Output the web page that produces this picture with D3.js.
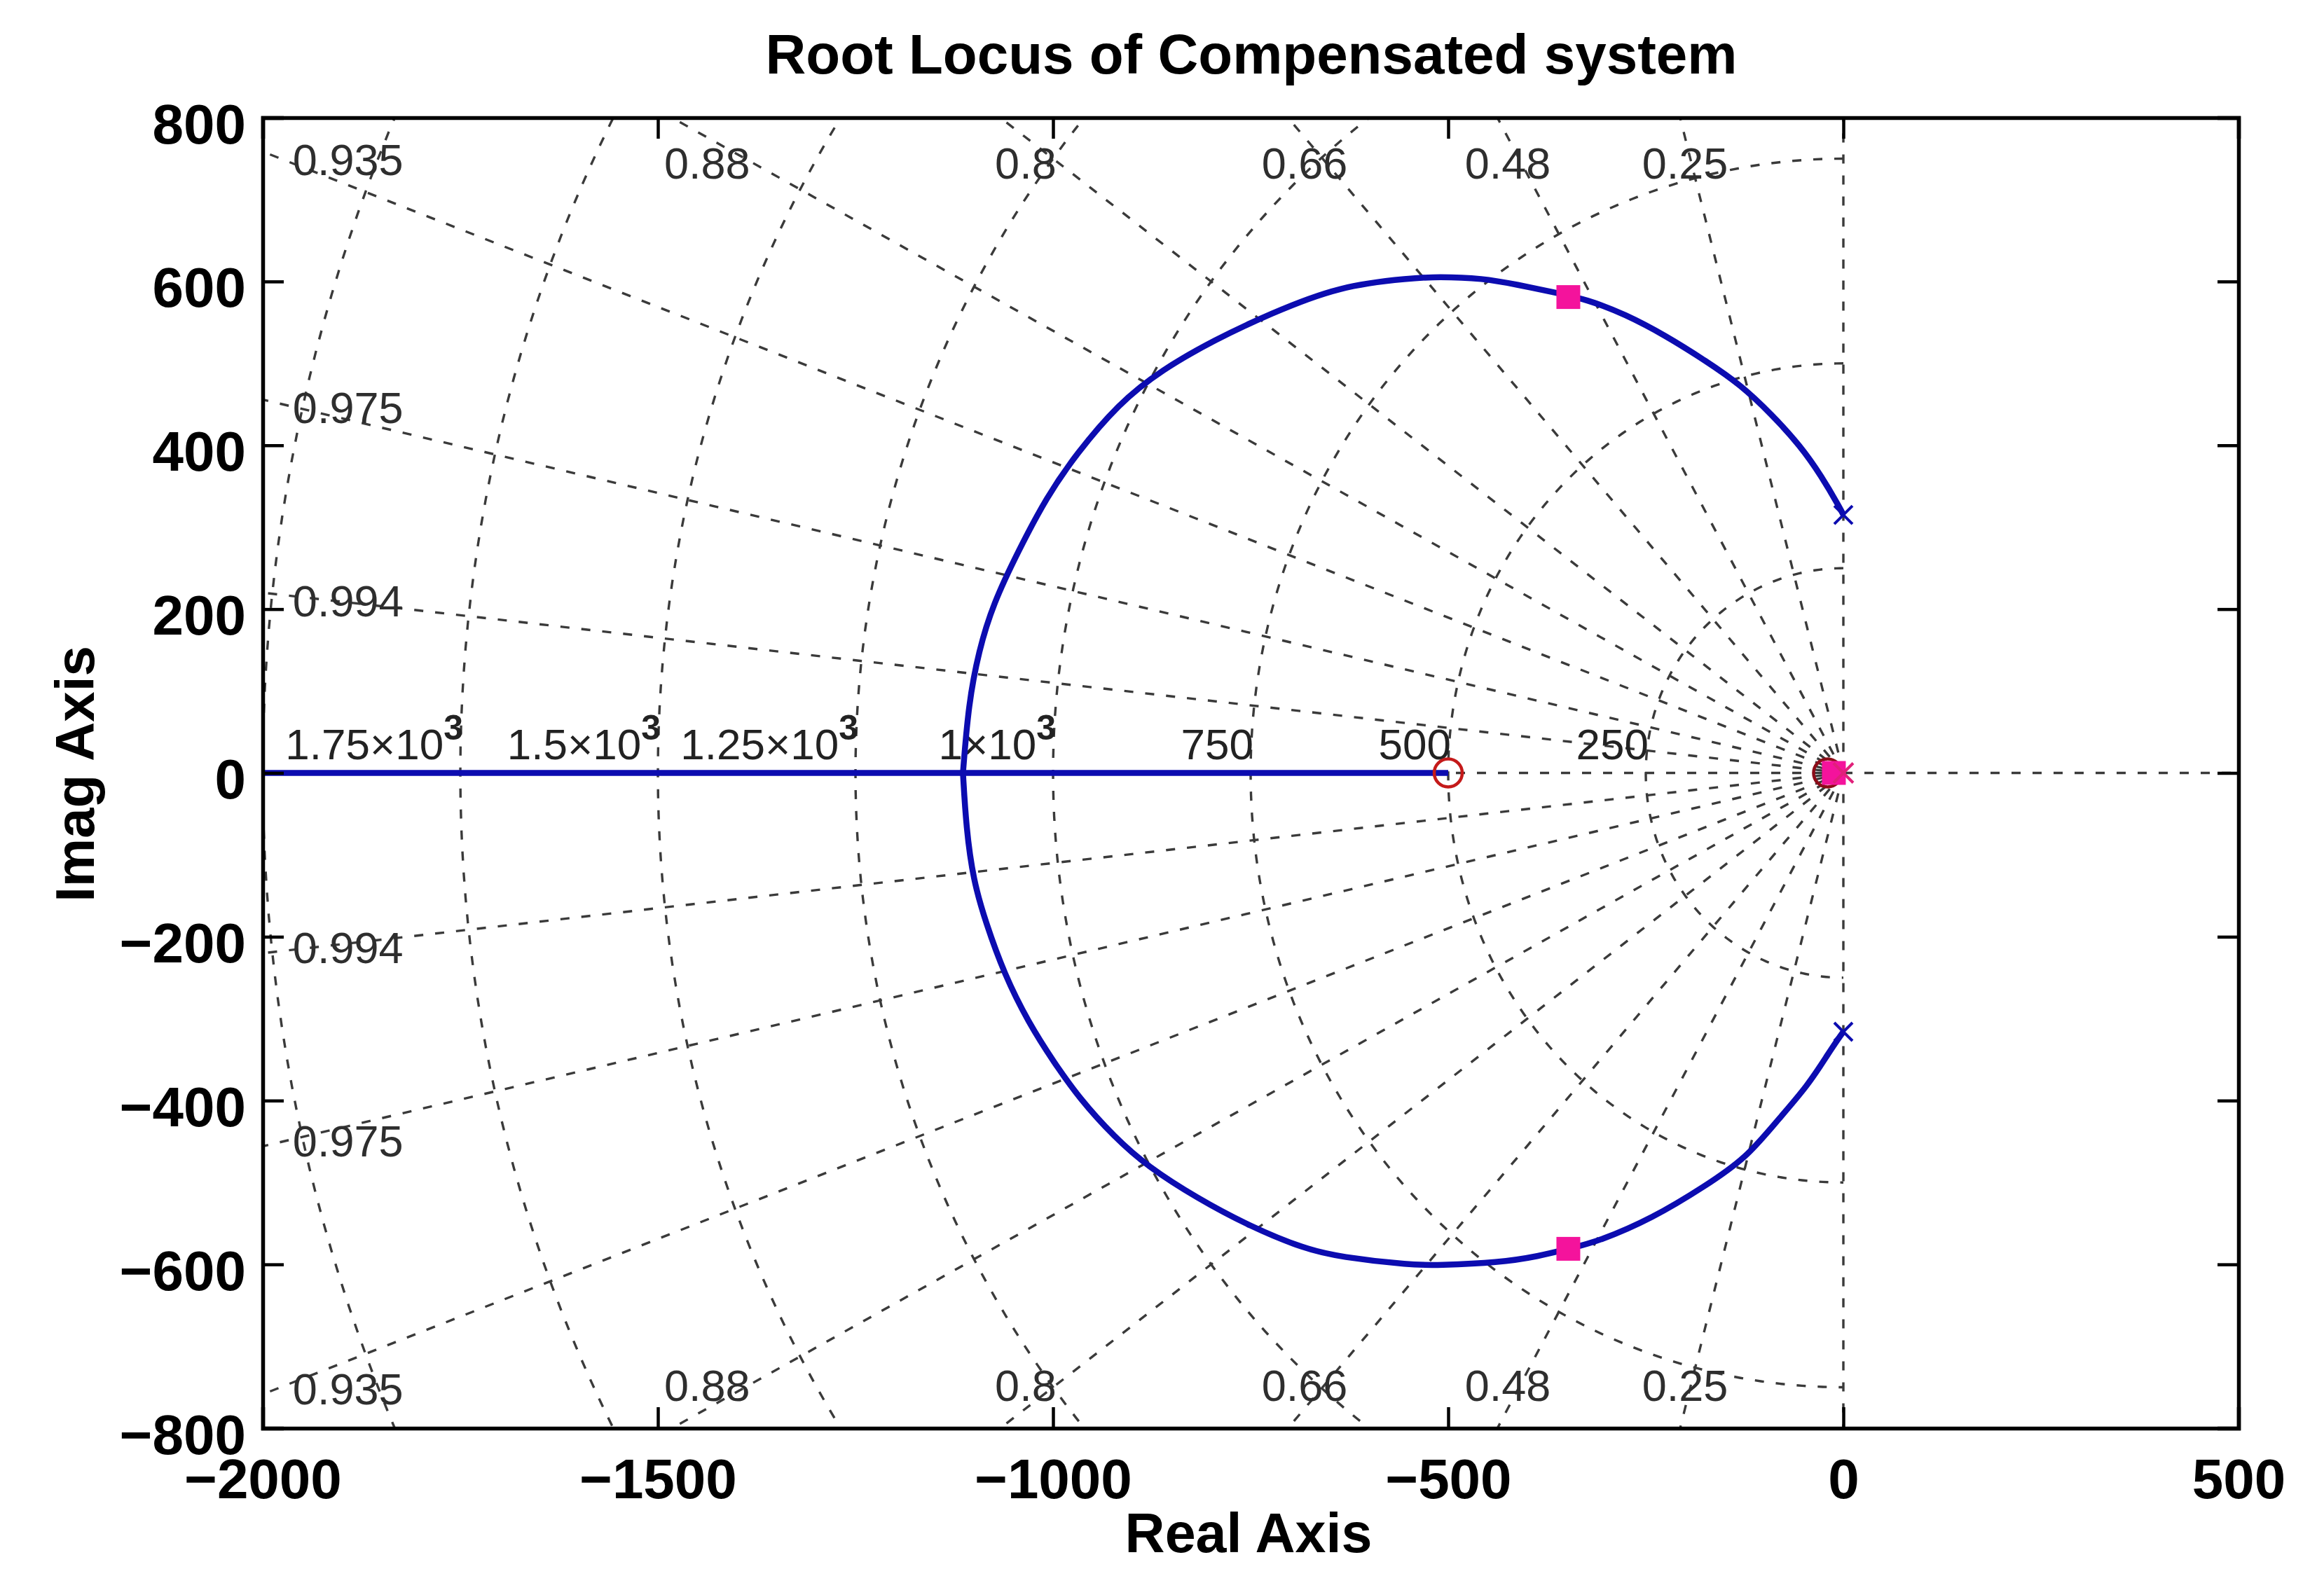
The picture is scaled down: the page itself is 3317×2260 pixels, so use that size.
<!DOCTYPE html>
<html>
<head>
<meta charset="utf-8">
<script src="https://cdn.jsdelivr.net/npm/d3@7"></script>
<style>
  body { margin: 0; background: #fff; }
  svg { display: block; }
</style>
</head>
<body>
<div id="chart"></div>
<script>
// values
const xTicks = [-2000, -1500, -1000, -500, 0, 500];
const yTicks = [-800, -600, -400, -200, 0, 200, 400, 600, 800];

const dampingRatios = [0.25, 0.48, 0.66, 0.8, 0.88, 0.935, 0.975, 0.994];
const natFreqs = [250, 500, 750, 1000, 1250, 1500, 1750, 2000];
const freqLabels = [250, 500, 750, 1000, 1250, 1500, 1750];

// upper branch: pole at j315 -> break-in on real axis
const upperRe = [0, -4, -28, -55, -90, -130, -174, -225, -276, -324, -367, -412, -456, -514, -546, -637, -727, -795, -863, -917, -971, -1008, -1044, -1076, -1094, -1107, -1114];
const upperIm = [315, 323, 363, 400, 437, 474, 503, 534, 560, 578, 587, 596, 604, 606, 604, 595, 560, 529, 492, 451, 389, 337, 271, 206, 149, 84, 0];
// lower branch: pole at -j316 -> break-in
const lowerRe = [0, -6, -18, -45, -86, -123, -174, -242, -310, -348, -385, -436, -514, -546, -637, -682, -750, -818, -881, -922, -967, -999, -1031, -1062, -1085, -1101, -1110, -1114];
const lowerIm = [-316, -324, -341, -382, -427, -470, -504, -544, -572, -581, -590, -598, -601, -601, -591, -581, -554, -519, -480, -445, -397, -353, -305, -245, -183, -131, -66, 0];
// real-axis branch
const realBranch = [[-2000, 0], [-500, 0]];

const openPoles = [[0, 315], [0, -316]];
const originPole = [0, 0];
const zeros = [-500, -20];
const clPoles = [[-348, 581], [-348, -581], [-12, 0]];

const W = 3317, H = 2260;
const font = '"Liberation Sans", Arial, Helvetica, sans-serif';

const svg = d3.select('#chart').append('svg')
    .attr('width', W)
    .attr('height', H);

const x = d3.scaleLinear().domain([-2000, 500]).range([375, 3195]);
const y = d3.scaleLinear().domain([-800, 800]).range([2039, 168]);

svg.append('clipPath').attr('id', 'plotclip')
  .append('rect')
    .attr('x', x(-2000)).attr('y', y(800))
    .attr('width', x(500) - x(-2000)).attr('height', y(-800) - y(800));

const gridColor = '#3a3a3a';
const grid = svg.append('g').attr('clip-path', 'url(#plotclip)')
    .style('fill', 'none')
    .style('stroke', gridColor)
    .style('stroke-width', 3.4)
    .style('stroke-dasharray', '13,17');

// damping rays, drawn outward from the origin
const rayLen = 3000;
dampingRatios.forEach(z => {
    const th = Math.acos(z);
    [1, -1].forEach(s => {
        grid.append('line')
            .attr('x1', x(0)).attr('y1', y(0))
            .attr('x2', x(-rayLen * Math.cos(th)))
            .attr('y2', y(s * rayLen * Math.sin(th)));
    });
});
// zeta = 0 and zeta = 1 lines
grid.append('line').attr('x1', x(0)).attr('y1', y(0)).attr('x2', x(0)).attr('y2', y(800));
grid.append('line').attr('x1', x(0)).attr('y1', y(0)).attr('x2', x(0)).attr('y2', y(-800));
grid.append('line').attr('x1', x(0)).attr('y1', y(0)).attr('x2', x(-2000)).attr('y2', y(0));
grid.append('line').attr('x1', x(0)).attr('y1', y(0)).attr('x2', x(500)).attr('y2', y(0));

// natural frequency semicircles
natFreqs.forEach(wn => {
    const pts = d3.range(0, 181, 1).map(a => {
        const t = (90 + a) * Math.PI / 180;
        return [wn * Math.cos(t), wn * Math.sin(t)];
    });
    grid.append('path')
        .attr('d', d3.line().x(d => x(d[0])).y(d => y(d[1]))(pts));
});

// grid labels
const gl = svg.append('g')
    .style('font-family', font)
    .style('font-size', '63px')
    .style('fill', '#2e2e2e');

dampingRatios.forEach(z => {
    const th = Math.acos(z);
    const topX = -800 / Math.tan(th);
    if (topX > -2000) {
        const cx = -776 / Math.tan(th);
        gl.append('text').attr('x', x(cx)).attr('y', y(726))
            .attr('text-anchor', 'middle').text(z);
        gl.append('text').attr('x', x(cx)).attr('y', y(-767))
            .attr('text-anchor', 'middle').text(z);
    } else {
        const leftY = 2000 * Math.tan(th);
        const b = leftY - 29;
        gl.append('text').attr('x', x(-1962)).attr('y', y(b)).text(z);
        gl.append('text').attr('x', x(-1962)).attr('y', y(-b - 41)).text(z);
    }
});

freqLabels.forEach(wn => {
    const t = gl.append('text')
        .attr('x', x(-wn) + 4)
        .attr('y', y(0) - 20)
        .attr('text-anchor', 'end')
        .style('font-size', '62px')
        .style('fill', '#222');
    if (wn >= 1000) {
        t.append('tspan').text((wn / 1000) + '\u00d710');
        t.append('tspan').attr('dy', -28).style('font-size', '50px').style('font-weight', 'bold').text('3');
    } else {
        t.text(wn);
    }
});

// locus
const blue = '#0c0cb0';
const line = d3.line()
    .x(d => x(d[0]))
    .y(d => y(d[1]))
    .curve(d3.curveBasis);

const locus = svg.append('g').attr('clip-path', 'url(#plotclip)')
    .style('fill', 'none')
    .style('stroke', blue)
    .style('stroke-width', 8.5)
    .style('stroke-linejoin', 'round');

locus.append('path').attr('d', line(upperRe.map((v, i) => [v, upperIm[i]])));
locus.append('path').attr('d', line(lowerRe.map((v, i) => [v, lowerIm[i]])));
locus.append('path').attr('d', d3.line().x(d => x(d[0])).y(d => y(d[1]))(realBranch));

// markers
const mk = svg.append('g');
const xMark = (cx, cy, col, r) => {
    mk.append('path')
        .attr('d', `M${cx - r},${cy - r}L${cx + r},${cy + r}M${cx - r},${cy + r}L${cx + r},${cy - r}`)
        .style('stroke', col).style('stroke-width', 4).style('fill', 'none');
};
openPoles.forEach(p => xMark(x(p[0]), y(p[1]), blue, 13));

mk.selectAll('circle.zero')
    .data(zeros)
    .enter().append('circle')
    .attr('class', 'zero')
    .attr('cx', d => x(d))
    .attr('cy', y(0))
    .attr('r', 20)
    .style('fill', 'none')
    .style('stroke', (d, i) => i === 0 ? '#c41a1a' : '#8c0c18')
    .style('stroke-width', 4.5);

mk.selectAll('rect.cl')
    .data(clPoles)
    .enter().append('rect')
    .attr('class', 'cl')
    .attr('x', d => x(d[0]) - 17)
    .attr('y', d => y(d[1]) - 17)
    .attr('width', 34)
    .attr('height', 34)
    .style('fill', '#f4139c');

xMark(x(originPole[0]), y(originPole[1]), '#e0207a', 14);

// frame and ticks
const frame = svg.append('g')
    .style('font-family', font)
    .style('font-weight', 'bold');

frame.append('g')
    .attr('transform', `translate(0,${y(-800)})`)
    .call(d3.axisBottom(x).tickValues(xTicks).tickSize(-30).tickPadding(43)
        .tickFormat(d => d < 0 ? '\u2212' + Math.abs(d) : d));
frame.append('g')
    .attr('transform', `translate(0,${y(800)})`)
    .call(d3.axisTop(x).tickValues(xTicks).tickSize(-30).tickFormat(''));
const leftAxis = frame.append('g')
    .attr('transform', `translate(${x(-2000)},0)`)
    .call(d3.axisLeft(y).tickValues(yTicks).tickSize(-30).tickPadding(24)
        .tickFormat(d => d < 0 ? '\u2212' + Math.abs(d) : d));
frame.append('g')
    .attr('transform', `translate(${x(500)},0)`)
    .call(d3.axisRight(y).tickValues(yTicks).tickSize(-30).tickFormat(''));

frame.selectAll('.domain').style('stroke', '#000').style('stroke-width', 5.5);
frame.selectAll('.tick line').style('stroke', '#000').style('stroke-width', 4.5);
frame.selectAll('.tick text')
    .style('font-family', font)
    .style('font-size', '80px')
    .style('font-weight', 'bold')
    .style('fill', '#000');
leftAxis.selectAll('.tick text').attr('dy', '0.45em');

// titles
svg.append('text')
    .attr('x', 1786).attr('y', 105)
    .attr('text-anchor', 'middle')
    .style('font-family', font).style('font-weight', 'bold').style('font-size', '80px')
    .text('Root Locus of Compensated system');

svg.append('text')
    .attr('x', 1782).attr('y', 2216)
    .attr('text-anchor', 'middle')
    .style('font-family', font).style('font-weight', 'bold').style('font-size', '79px')
    .text('Real Axis');

svg.append('text')
    .attr('transform', 'translate(134,1105)rotate(-90)')
    .attr('text-anchor', 'middle')
    .style('font-family', font).style('font-weight', 'bold').style('font-size', '78px')
    .text('Imag Axis');
</script>
</body>
</html>
